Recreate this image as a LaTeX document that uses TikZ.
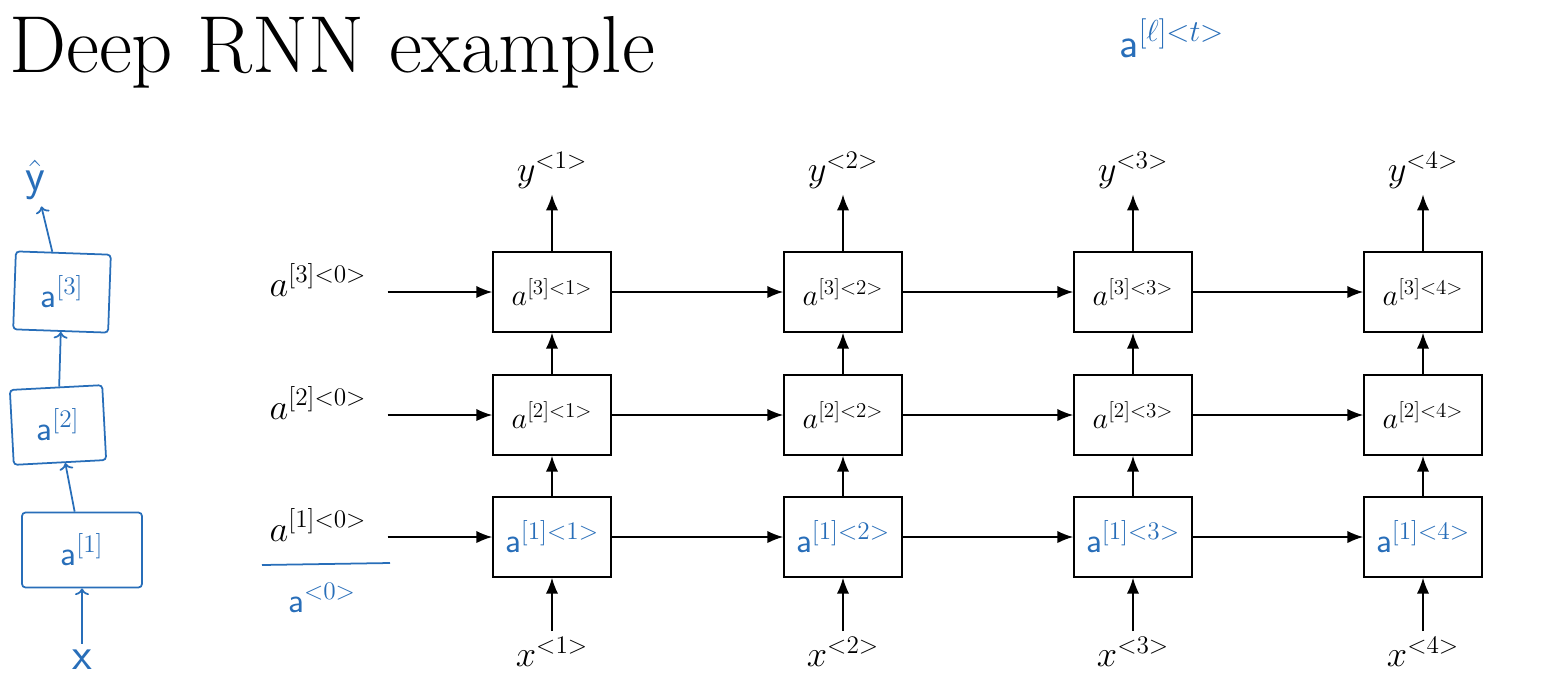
\documentclass[tikz,border=0pt]{standalone}
\usepackage{fontspec}
\setmainfont{Latin Modern Roman}
\usetikzlibrary{arrows.meta}
\definecolor{pen}{RGB}{40,110,185}
\begin{document}
\begin{tikzpicture}[x=0.02cm,y=-0.02cm,
  cell/.style={draw,line width=0.9pt,minimum width=2.36cm,minimum height=1.6cm,inner sep=0pt,font=\fontsize{18}{20}\selectfont},
  lab/.style={font=\fontsize{20}{24}\selectfont},
  arr/.style={-{Latex[length=9pt,width=7pt]},line width=0.9pt},
  hand/.style={draw=pen,line width=1pt},
  handt/.style={text=pen,font=\sffamily\fontsize{20}{22}\selectfont}]
\useasboundingbox (0,0) rectangle (1541,680);
\node[anchor=west,font=\fontsize{46}{50}\selectfont] (title) at (3,52) {Deep RNN example};
\node[handt,font=\sffamily\fontsize{24}{26}\selectfont] (alt) at (1172,38) {$\mathsf{a}^{[\ell]<t>}$};
% boxes
\foreach \i/\x in {1/552,2/843,3/1133,4/1423}{
  \node[cell] (c3\i) at (\x,292) {$a^{[3]<\i>}$};
  \node[cell] (c2\i) at (\x,415) {$a^{[2]<\i>}$};
  \node[cell,text=pen,font=\sffamily\fontsize{20}{22}\selectfont] (c1\i) at (\x,537) {$\mathsf{a}^{[1]<\i>}$};
  \node[lab] (y\i) at (\x,170) {$y^{<\i>}$};
  \node[lab] (x\i) at (\x,652) {$x^{<\i>}$};
  \draw[arr] (x\i) -- (c1\i);
  \draw[arr] (c1\i) -- (c2\i);
  \draw[arr] (c2\i) -- (c3\i);
  \draw[arr] (c3\i) -- (y\i.south);
}
\foreach \r in {1,2,3}{
  \draw[arr] (c\r1) -- (c\r2);
  \draw[arr] (c\r2) -- (c\r3);
  \draw[arr] (c\r3) -- (c\r4);
}
\node[lab] (a30) at (318,280) {$a^{[3]<0>}$};
\node[lab] (a20) at (318,403) {$a^{[2]<0>}$};
\node[lab] (a10) at (318,525) {$a^{[1]<0>}$};
\draw[arr] (a30.east)++(15,12) coordinate (s3) -- (c31);
\draw[arr] (a20.east)++(15,12) coordinate (s2) -- (c21);
\draw[arr] (a10.east)++(15,12) coordinate (s1) -- (c11);
\coordinate (u1) at (262,565); \coordinate (u2) at (390,563);
\draw[hand] (u1) -- (u2);
\node[handt] (a0) at (322,598) {$\mathsf{a}^{<0>}$};
% left handwritten column
\node[hand,minimum width=1.9cm,minimum height=1.56cm,rounded corners=2pt,rotate=-2] (l3) at (62,292) {};
\node[handt] at (l3) {$\mathsf{a}^{[3]}$};
\node[hand,minimum width=1.85cm,minimum height=1.5cm,rounded corners=2pt,rotate=3] (l2) at (58,425) {};
\node[handt] at (l2) {$\mathsf{a}^{[2]}$};
\node[hand,minimum width=2.4cm,minimum height=1.5cm,rounded corners=2pt] (l1) at (82,550) {};
\node[handt] at (l1) {$\mathsf{a}^{[1]}$};
\node[handt,font=\sffamily\fontsize{26}{28}\selectfont] (lx) at (82,660) {x};
\node[handt,font=\sffamily\fontsize{26}{28}\selectfont] (ly) at (35,180) {$\hat{\mathsf{y}}$};
\draw[hand,->] (lx) -- (l1);
\draw[hand,->] (l1) -- (l2);
\draw[hand,->] (l2) -- (l3);
\draw[hand,->] (l3) -- (ly);
\end{tikzpicture}
\end{document}
